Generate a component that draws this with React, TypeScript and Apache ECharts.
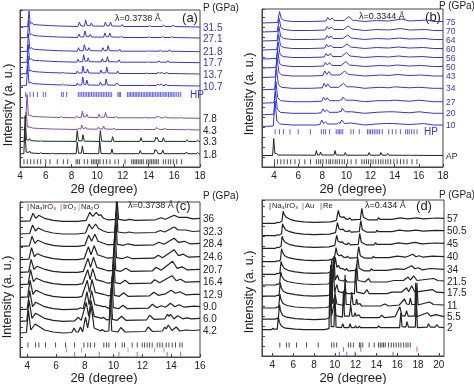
import React, { useEffect, useRef } from 'react';
import * as echarts from 'echarts';

const FONT = '"Liberation Sans", Arial, sans-serif';
const BLUE = '#3434dc';
const PURPLE = '#7d4fa6';
const BLACK = '#222222';
const RED = '#e2304e';
const GREEN = '#3cc44a';

// ---------- Panel (a) ----------
const aLabels = ['31.5', '27.1', '21.8', '17.7', '13.7', '10.7', '7.8', '4.3', '3.3', '1.8'];
const aOffsets = [140, 129, 115.3, 104.3, 93, 81, 48.7, 37, 25.3, 13];
const aColors = [BLUE, BLUE, BLUE, BLUE, BLUE, BLUE, PURPLE, PURPLE, BLACK, BLACK];
const a315 = [4,0, 4.6,0.5, 4.7,16, 4.8,3, 4.92,4.5, 5.05,2.5, 5.5,2, 6.2,1.5, 7,1, 8.5,0.5, 8.62,5, 8.74,1, 9.02,1, 9.1,7, 9.22,1.5, 9.47,1.2, 9.55,4, 9.66,1, 10.55,0.8, 10.64,5, 10.75,1.2, 10.95,1.2, 11.04,5, 11.15,1, 11.85,0.8, 11.95,2.5, 12.05,0.5, 14,0.5, 14.08,1.5, 14.2,0.5, 15.08,0.5, 15.16,2, 15.28,0.5, 15.8,0.5, 15.9,2, 16.05,0.5, 18,0];
const a271 = [4,0, 4.58,0.5, 4.68,18, 4.78,3, 4.9,4, 5.05,2.5, 5.5,2, 6.2,1.5, 7,1, 8.48,0.5, 8.58,4, 8.7,1, 8.96,1, 9.05,7, 9.17,1.5, 9.38,1.2, 9.46,3.5, 9.58,1, 10.5,0.8, 10.6,5, 10.7,1.2, 10.9,1.2, 10.98,5, 11.1,1, 11.8,0.8, 11.9,2, 12,0.5, 13.95,0.5, 14.02,1.2, 14.15,0.5, 15.02,0.5, 15.1,1.5, 15.2,0.5, 15.72,0.5, 15.8,1.5, 15.9,0.5, 18,0];
const a218 = [4,0, 4.56,0.5, 4.66,18, 4.76,3, 4.88,4, 5.02,2.5, 5.5,2, 6.2,1.5, 7,1, 8.45,0.5, 8.55,4, 8.65,1, 8.92,1, 9,7, 9.12,1.5, 9.28,1.5, 9.36,4, 9.46,1, 10.37,0.8, 10.45,4, 10.55,1, 10.77,1.2, 10.85,6, 10.96,1, 11.67,0.8, 11.75,2.5, 11.85,0.5, 13.92,0.5, 14,1, 14.1,0.5, 14.82,0.5, 14.9,1.5, 15,0.5, 15.55,0.5, 15.62,2, 15.72,0.5, 18,0];
const a177 = [4,0, 4.54,0.5, 4.64,18, 4.74,3, 4.87,4, 5,2.5, 5.5,2, 6.2,1.5, 7,1, 8.42,0.5, 8.5,3.5, 8.6,1, 8.87,1, 8.95,8, 9.06,1.5, 9.23,1.5, 9.3,5, 9.4,1, 10.32,0.8, 10.4,4, 10.5,1, 10.72,1.2, 10.8,6, 10.9,1, 11.62,0.8, 11.7,3, 11.8,0.5, 13.85,0.5, 13.92,1, 14,0.5, 14.72,0.5, 14.8,2, 14.9,0.5, 15.42,0.5, 15.5,2, 15.6,0.5, 18,0];
const a137 = [4,0, 4.52,0.5, 4.62,18, 4.72,3, 4.86,3.5, 5,2.5, 5.5,2, 6.2,1.5, 7.27,1, 7.35,1.5, 7.45,1, 8.38,0.5, 8.45,3, 8.55,1, 8.82,1, 8.9,8, 9,1.5, 9.18,1.5, 9.25,5, 9.35,1, 10.22,0.8, 10.3,4, 10.4,1, 10.67,1.2, 10.75,7, 10.85,1, 11.52,0.8, 11.6,3, 11.7,0.5, 13.8,0.5, 13.86,1, 13.95,0.5, 14.68,0.5, 14.75,2, 14.85,0.7, 15.05,1.5, 15.15,0.5, 15.33,0.5, 15.4,2, 15.5,0.5, 18,0];
const a107 = [4,0, 4.5,0.5, 4.6,20, 4.7,3, 4.84,3.5, 4.98,2.5, 5.5,2, 6.2,1.5, 7.22,1, 7.3,2, 7.4,1, 7.55,1, 7.6,1.5, 7.7,0.8, 8.38,0.5, 8.45,3, 8.55,1, 8.8,1, 8.88,9, 8.98,1.5, 9.12,1.5, 9.2,6, 9.3,1, 10.17,0.8, 10.25,4, 10.35,1, 10.62,1.2, 10.7,7, 10.8,1, 11.42,0.8, 11.5,3, 11.56,2, 11.62,2.5, 11.72,0.5, 13.75,0.5, 13.8,1, 13.9,0.5, 14.62,0.5, 14.7,2, 14.85,1, 15,2, 15.1,0.5, 15.28,0.5, 15.35,2, 15.45,0.5, 18,0];
const a78 = [4,0, 4.45,0.5, 4.55,24, 4.65,3, 4.8,3, 4.95,2, 5.5,1.5, 6.5,1, 7.12,0.8, 7.2,2, 7.3,0.8, 8.32,0.5, 8.4,2.5, 8.5,0.8, 8.77,1, 8.85,7, 8.95,1.5, 9.12,1.5, 9.2,4, 9.3,1, 10.07,0.8, 10.15,4, 10.25,1, 10.57,1.2, 10.65,6, 10.75,1, 11.42,0.8, 11.5,2, 11.6,0.5, 13.65,0.5, 13.7,1, 13.8,0.5, 14.58,0.5, 14.65,2, 14.72,1.5, 14.8,2, 14.9,0.5, 15.22,0.5, 15.3,2, 15.4,0.5, 16.45,0.3, 16.5,0.8, 16.6,0.3, 18,0];
const a43 = [4,0, 4.4,0.5, 4.48,18, 4.58,3, 4.78,3, 4.95,2, 5.5,1.5, 6.5,1, 8.47,0.5, 8.55,2, 8.65,1, 8.73,1, 8.8,5, 8.9,1.5, 9.03,1.5, 9.1,3, 9.2,1, 10.02,0.8, 10.1,3, 10.2,1, 10.42,1, 10.5,4, 10.6,1, 11.22,0.8, 11.3,2, 11.4,0.5, 13.45,0.5, 13.5,1, 13.6,0.5, 14.52,0.5, 14.6,2.5, 14.68,1.5, 14.75,2, 14.85,0.5, 15.17,0.5, 15.25,2, 15.35,0.5, 16.95,0.3, 17,1, 17.1,0.3, 18,0];
const a33 = [4,0, 4.32,0.5, 4.4,26, 4.5,2, 4.68,1.5, 4.75,3, 4.85,1, 5.6,0.5, 5.65,1, 5.72,0.5, 8.37,0.3, 8.45,11, 8.55,0.8, 8.82,0.8, 8.9,7, 9,0.5, 10.17,0.3, 10.25,11, 10.35,0.5, 11.12,0.3, 11.2,5, 11.3,0.3, 13.32,0.3, 13.4,4, 13.5,0.3, 14.47,0.3, 14.55,4.5, 14.62,3, 14.68,4, 14.78,0.3, 15.07,0.3, 15.15,4, 15.25,0.3, 16.92,0.3, 17,2, 17.1,0.3, 17.72,0.3, 17.8,1.5, 17.9,0.3, 18,0];
const a18 = [4,0, 4.3,0.5, 4.38,26, 4.48,2, 4.68,1.5, 4.75,3, 4.85,1, 5.55,0.5, 5.6,1.5, 5.7,0.5, 6.45,0.3, 6.5,0.8, 6.6,0.3, 8.37,0.3, 8.45,12, 8.55,0.8, 8.77,0.8, 8.85,8, 8.95,0.5, 10.12,0.3, 10.2,13, 10.3,0.5, 11.07,0.3, 11.15,5, 11.25,0.3, 13.27,0.3, 13.35,3.5, 13.45,0.3, 14.42,0.3, 14.5,4.5, 14.57,3, 14.63,3.5, 14.73,0.3, 15.02,0.3, 15.1,4, 15.2,0.3, 16.87,0.3, 16.95,2, 17.05,0.3, 17.72,0.3, 17.8,1.5, 17.9,0.3, 18,0];
const aCurves = [a315, a271, a218, a177, a137, a107, a78, a43, a33, a18];
const aTicksHP = [4.44,4.78,5.04,5.35,5.81,6.0,7.24,7.37,7.63,8.54,8.67,8.8,8.93,9.06,9.19,9.32,9.44,9.57,9.7,9.83,9.96,10.09,10.22,10.35,10.48,10.61,10.74,10.87,11.0,11.13,11.62,11.72,11.82,12.35,12.48,12.6,12.72,12.84,12.96,13.08,13.2,13.32,13.45,13.58,13.7,13.82,13.94,14.06,14.18,14.3,14.42,14.55,14.68,14.8,14.92,15.05,15.18,15.3,15.42,15.55,15.68,15.8,15.92,16.05,16.2,16.35,16.5];
const aTicksAP = [4.31,4.57,4.83,5.09,5.35,5.61,6.0,6.33,6.9,7.37,7.71,8.36,8.49,8.62,9.0,9.26,9.57,9.7,9.83,9.96,10.09,10.22,10.48,10.74,11.0,11.39,11.65,12.17,12.69,12.82,12.95,13.07,13.2,13.33,13.46,13.59,13.85,13.98,14.11,14.24,14.37,14.5,14.63,14.76,15.15,15.33,15.54,15.72,15.93,16.19,16.57];

// ---------- Panel (b) ----------
const bLabels = ['75', '70', '64', '60', '56', '50', '43', '34', '27', '20', '10', 'AP'];
const bOffsets = [145.5, 136.5, 127.5, 118.5, 109.5, 100.5, 91, 78.7, 65.3, 53.7, 42, 11.5];
const bColors = [BLUE, BLUE, BLUE, BLUE, BLUE, BLUE, BLUE, BLUE, BLUE, BLUE, BLUE, BLACK];
const b75 = [3,-1.5, 4.3,-1, 4.45,10, 4.6,3, 4.85,1, 5.5,0, 7,0, 8.3,0.5, 8.45,4, 8.62,1.5, 8.8,3.5, 9,1, 9.8,1, 10.2,5, 10.5,1.5, 10.8,1, 11.5,0, 12.5,1, 13.5,0.5, 14.6,2.5, 15.2,0.5, 16.7,1.5, 17.2,0, 18,0];
const b70 = [3,-1.5, 4.27,-1, 4.42,12, 4.57,3, 4.82,1, 5.5,0, 7,0, 8.25,0.5, 8.4,4, 8.57,1.5, 8.75,3.5, 8.95,1, 9.75,1, 10.15,4.5, 10.45,1.5, 11.5,0, 12.5,1, 13.5,0.5, 14.5,2, 15.2,0.5, 16.6,1, 17.2,0, 18,0];
const b64 = [3,-1.5, 4.25,-1, 4.4,13, 4.55,3, 4.8,1, 5.5,0, 7,0, 8.25,0.5, 8.4,4, 8.55,1.5, 8.7,3.5, 8.9,1, 9.7,1, 10.1,4.5, 10.4,1.5, 11.5,0, 12.5,1, 13.5,0.5, 14.4,1.5, 15.2,0.5, 16.5,1, 17.2,0, 18,0];
const b60 = [3,-1.5, 4.23,-1, 4.38,14, 4.53,3, 4.78,1, 5.5,0, 7,0, 8.2,0.5, 8.35,4, 8.52,1.5, 8.68,3.5, 8.88,1, 9.65,1, 10.05,4.5, 10.35,1.5, 11.5,0, 12.5,1, 13.5,0.5, 14.3,1.5, 15.2,0.5, 16.4,1, 17.2,0, 18,0];
const b56 = [3,-1.5, 4.2,-1, 4.35,15, 4.5,3, 4.75,1, 5.5,0, 7,0, 8.15,0.5, 8.3,4, 8.47,1.5, 8.65,4, 8.85,1, 9.6,1, 10,5, 10.3,1.5, 11.5,0, 12.6,1, 13.5,0.5, 14.3,1.5, 15.2,0.5, 16.3,1, 17.2,0, 18,0];
const b50 = [3,-1.5, 4.15,-1, 4.3,16, 4.45,3, 4.7,1, 5.5,0, 7,0, 8.1,0.5, 8.25,4, 8.42,1.5, 8.6,4, 8.8,1, 9.55,1, 9.95,5, 10.25,1.5, 11.5,0, 12.8,1, 13.5,0.5, 14.2,1.5, 15.2,0.5, 16.2,1, 17.2,0, 18,0];
const b43 = [3,-1.5, 4.1,-1, 4.25,18, 4.4,3.5, 4.65,1, 5.5,0, 7,0, 8.05,0.5, 8.2,5, 8.37,1.5, 8.55,4.5, 8.75,1, 9.45,1, 9.85,5, 10.15,1.5, 10.7,1, 11.5,0, 12.9,1, 13.5,0.5, 14.2,1.5, 15.2,0.5, 16.2,1, 17.2,0, 18,0];
const b34 = [3,-1.5, 4.05,-1, 4.2,20, 4.35,4, 4.6,1, 5.5,0, 7,0, 8,0.5, 8.15,5, 8.3,1.5, 8.45,4.5, 8.65,1, 9.35,1, 9.75,5, 10.05,1.5, 10.6,1.5, 11.5,0, 12.7,1, 13.5,0.5, 14,1.5, 15.2,0.5, 16,1, 17.2,0, 18,0];
const b27 = [3,-1.5, 4,-1, 4.15,20, 4.3,4, 4.55,1, 5.5,0, 7,0, 7.95,0.5, 8.1,4.5, 8.25,1.5, 8.4,4, 8.6,1, 9.4,1, 9.5,2, 9.6,1.5, 9.7,4.5, 9.95,1.5, 10.55,1.5, 11.5,0, 12.6,1, 13.5,1, 14,1.5, 15.2,0.5, 16,1.5, 17.2,0, 18,0];
const b20 = [3,-1.5, 3.97,-1, 4.12,22, 4.27,4, 4.52,1, 5.5,0, 7.5,0, 7.9,0.5, 8.05,4.5, 8.2,1.5, 8.35,3.5, 8.55,1, 9.3,1, 9.45,2, 9.55,1.5, 9.65,5, 9.9,1.5, 10.45,1.5, 11.5,0, 12.5,1, 13.4,1.5, 13.9,1.5, 15.2,0.5, 16,1.5, 17.2,0, 18,0];
const b10 = [3,-1.5, 3.93,-1, 4.08,24, 4.23,4, 4.48,1, 5.5,0, 7.5,0, 7.8,0.5, 7.95,5, 8.1,1.5, 8.25,3, 8.45,1, 9.2,1, 9.35,2.5, 9.47,1.5, 9.6,5, 9.85,1.5, 10.35,2, 11.5,0, 12.45,1, 13.3,1.5, 13.8,1.5, 15.2,0.5, 15.9,1, 16.4,1.5, 17.2,0, 18,0];
const bAP = [3,0, 3.88,0, 3.97,17, 4.07,2, 4.2,2, 4.35,0.5, 7.42,0.3, 7.5,5, 7.6,0.5, 7.78,0.5, 7.85,3.5, 7.95,0.5, 8.97,0.5, 9.05,5, 9.15,0.5, 9.83,0.3, 9.9,3, 10,0.3, 11.8,0.3, 11.88,3, 11.98,0.3, 12.77,0.3, 12.85,3, 12.95,0.3, 13.32,0.3, 13.4,2, 13.5,0.3, 15.15,0.2, 15.2,0.5, 15.3,0.2, 18,0];
const bCurves = [b75, b70, b64, b60, b56, b50, b43, b34, b27, b20, b10, bAP];
const bTicksHP = [4.09,4.45,4.78,5.32,6.0,7.01,7.92,8.11,8.27,8.6,9.15,9.3,9.42,9.55,9.69,10.37,10.57,11.06,11.74,11.88,12.0,12.15,12.3,12.45,12.6,12.75,12.97,13.5,13.8,14.1,14.47,14.9,15.05,15.2,15.4,15.6,15.85];
const bTicksAP = [4.04,4.28,4.56,4.83,5.1,5.38,5.73,6.09,6.55,7.02,7.51,7.7,7.86,8.05,8.33,8.54,8.68,8.87,9.07,9.23,9.42,9.64,9.83,10.1,10.38,10.79,11.28,11.47,11.66,11.83,12.02,12.21,12.43,12.65,12.84,13.03,13.25,13.44,13.66,13.93,14.2,14.48,14.75,15.02,15.43,15.84];

// ---------- Panel (c) ----------
const cLabels = ['36', '32.3', '28.4', '24.6', '20.7', '16.4', '12.9', '9.0', '6.0', '4.2'];
const cOffsets = [138.7, 126, 113.7, 100.3, 87.7, 75.3, 62.7, 50.3, 38.7, 27];
const c36 = [3.5,-3, 4.2,-2.5, 4.4,5, 4.6,0, 4.8,3, 5.2,0, 5.8,-2, 6.5,-3, 7.5,-3, 8.1,-2, 8.35,6, 8.55,2, 8.8,6, 8.97,3, 9.12,3.5, 9.3,0, 9.6,-1.5, 10.15,-1, 10.25,17, 10.35,-1, 10.8,-2, 11.1,-1, 11.5,-2, 12.9,-1.5, 13.3,0.5, 13.6,-1, 14.2,3, 14.5,1, 15.1,1, 15.5,-0.5, 16,0];
const c323 = [3.5,-3, 4.17,-2.5, 4.37,6, 4.57,0, 4.77,3, 5.2,0, 5.8,-2, 6.5,-3, 7.5,-3, 8.05,-2, 8.3,7, 8.5,2, 8.75,7, 8.95,2.5, 9.3,0, 9.6,-1.5, 10.1,-1, 10.2,30, 10.3,-1, 10.8,-2, 11.05,-1, 11.5,-2, 12.9,-1.5, 13.25,0.5, 13.55,-1, 14.2,4, 14.5,1, 15,1, 15.5,-0.5, 16,0];
const c284 = [3.5,-3, 4.15,-2.5, 4.33,7, 4.53,0, 4.73,3, 5.2,0, 5.8,-2, 6.5,-3, 7.5,-3, 8,-2, 8.27,8, 8.47,2, 8.7,9, 8.92,2, 9.3,0, 9.6,-1.5, 10.05,-1, 10.15,30, 10.25,-1, 10.7,-2, 11,-0.5, 11.5,-2, 12.8,-1.5, 13.15,1, 13.5,-1, 14.2,5, 14.5,1, 14.9,2, 15.3,-0.5, 16,0];
const c246 = [3.5,-3, 4.12,-2.5, 4.3,9, 4.5,0, 4.7,3, 5.2,0, 5.8,-2, 6.5,-3, 7.5,-3, 7.95,-2, 8.25,10, 8.43,2, 8.65,11, 8.88,2, 9.3,0, 9.6,-1.5, 10,-1, 10.1,30, 10.2,-1, 10.6,-2, 10.95,0, 11.3,-2, 12.8,-1.5, 13.1,1.5, 13.4,-1, 14.2,7, 14.5,1, 14.85,2.5, 15.2,-0.5, 16,0];
const c207 = [3.5,-3, 4.1,-2.5, 4.27,10, 4.47,0, 4.67,3, 5.2,0, 5.8,-2, 6.5,-3, 7.5,-3, 7.9,-2, 8.22,11, 8.4,2, 8.6,12, 8.83,2, 9.3,0, 9.6,-1.5, 9.95,-1, 10.05,30, 10.15,-1, 10.5,-2, 10.85,1, 11.2,-2, 12.7,-1.5, 12.95,2, 13.3,-1, 14.1,8, 14.4,1, 14.75,2.5, 15.1,-0.5, 16,0];
const c164 = [3.5,-3, 4.07,-2.5, 4.23,12, 4.43,0, 4.64,3.5, 5.2,0, 5.8,-2, 6.5,-3, 7.5,-3, 7.85,-2, 8.2,12, 8.37,2, 8.55,13, 8.78,2, 9.3,0, 9.6,-1.5, 9.9,-1, 10,30, 10.1,-1, 10.45,-2, 10.8,1.5, 11.1,-2, 12.6,-1.5, 12.85,2, 13.2,-1, 14.05,6, 14.35,1, 14.65,2.5, 15,-0.5, 16,0];
const c129 = [3.5,-3, 4.03,-2.5, 4.2,14, 4.4,0, 4.6,4, 5.2,0, 5.8,-2, 6.5,-3, 7.5,-3, 7.8,-2, 8.17,14, 8.33,2, 8.5,15, 8.73,2, 9.3,0, 9.6,-1.5, 9.85,-1, 9.95,30, 10.05,-1, 10.4,-2, 10.7,1.5, 11,-2, 12.5,-1.5, 12.8,2, 13.1,-1, 13.6,0.5, 14,4, 14.3,1, 14.6,2.5, 15,-0.5, 15.6,0, 16,0];
const c90 = [3.5,-3, 4,-2.5, 4.17,16, 4.37,0, 4.6,4.5, 5.2,0, 5.8,-2, 6.5,-3, 7.5,-2.5, 7.7,-1, 7.9,-2, 8.15,15, 8.3,2, 8.47,16, 8.7,2, 9.3,0, 9.4,0.5, 9.6,-1.5, 9.78,-1, 9.88,30, 9.98,-1, 10.35,-2, 10.65,1.5, 10.95,-2, 12.4,-1.5, 12.7,2.5, 13,-1, 13.3,1, 13.6,-0.5, 13.95,3.5, 14.25,0, 14.55,2, 14.9,-0.5, 15.6,0.5, 16,0];
const c60 = [3.5,-3, 3.97,-2.5, 4.13,18, 4.33,0, 4.58,5, 5.2,0, 5.8,-2, 6.5,-3, 7.3,-2.5, 7.55,1, 7.75,-2, 8.1,16, 8.27,2, 8.43,18, 8.65,2, 9.2,0, 9.3,1, 9.5,-1.5, 9.72,-1, 9.82,30, 9.92,-1, 10.25,-2, 10.55,2, 10.85,-2, 12.3,-1.5, 12.5,3, 12.8,-1, 13.55,-0.5, 13.75,4, 13.85,2, 13.95,4, 14.2,-0.5, 14.45,2.5, 14.8,-0.5, 15.1,0.5, 15.4,-0.5, 16,0];
const c42 = [3.5,-3, 3.95,-2.5, 4.08,20, 4.25,0, 4.55,6, 5.2,0, 5.8,-2, 6.5,-3, 7.1,-2.5, 7.25,2, 7.4,-2, 7.55,-2, 7.7,3, 7.85,-2, 8.05,13, 8.2,2, 8.45,24, 8.65,2, 9.1,-1, 9.2,0.5, 9.4,-1.5, 9.67,-1, 9.77,32, 9.87,-1, 10.3,-2, 10.5,2.5, 10.8,-2, 12.2,-1.5, 12.4,3, 12.7,-1.5, 13.4,-1, 13.55,3, 13.65,1, 13.8,5, 14.05,-0.5, 14.35,3, 14.6,-1, 15,0, 15.5,-0.5, 16,0];
const cCurves = [c36, c323, c284, c246, c207, c164, c129, c90, c60, c42];
const cTicksNa3IrO3 = [4.05,4.58,4.81,5.27,5.97,6.66,7.29,7.94,8.21,8.4,8.68,9.32,9.51,9.67,10.13,10.6,10.76,11.29,11.64,11.99,12.15,12.33,12.5,12.68,13.03,13.21,13.38,13.65,13.84,14.07,14.3,14.6,14.76];
const cTicksNa2O = [6.73, 7.77, 11.0, 12.85, 13.5];
const cTicksIrO2 = [7.29, 9.0, 10.37, 11.64, 13.72, 14.65];

// ---------- Panel (d) ----------
const dLabels = ['57', '50.5', '45', '40', '34', '21.5', '17.5', '11', '5.5', '2'];
const dOffsets = [137.7, 125.3, 112.7, 99.3, 86.7, 75, 63.3, 51, 39.3, 28.3];
const d57 = [3,-5, 4.3,-5, 4.45,-4, 4.6,-4.5, 4.92,-3, 5.03,7, 5.13,4, 5.33,1, 5.7,-1, 6.2,-2.5, 7,-3.5, 8,-4, 9.6,-3.5, 10.15,-2, 10.34,8, 10.48,2, 10.65,1, 10.85,1.5, 11.05,-0.5, 11.3,-1, 11.42,0.5, 11.6,-1.5, 12.45,-1, 12.6,10, 12.75,1, 13.2,-1.5, 14.1,-1.5, 14.2,0.5, 14.35,-1, 15.5,-1, 16.3,0.5, 17,-0.5, 17.9,0.5, 18.5,-0.5, 19.85,0.3, 20.5,0];
const d505 = [3,-5, 4.3,-5, 4.45,-4, 4.6,-4.5, 4.88,-3, 4.98,7, 5.08,4, 5.28,1, 5.65,-1, 6.2,-2.5, 7,-3.5, 8,-4, 9.5,-3.5, 10.07,-2, 10.25,8, 10.4,2, 10.58,1, 10.78,1.5, 10.98,-0.5, 11.25,-1, 11.37,0.5, 11.55,-1.5, 12.35,-1, 12.5,10, 12.65,1, 13.1,-1.5, 13.95,-1.5, 14.05,0.5, 14.2,-1, 15.5,-1, 16.2,0.5, 17,-0.5, 17.8,0.5, 18.5,-0.5, 19.7,0.3, 20.5,0];
const d45 = [3,-5, 4.3,-5, 4.45,-4, 4.6,-4.5, 4.83,-3, 4.93,7, 5.03,4, 5.23,1, 5.6,-1, 6.2,-2.5, 7,-3.5, 8,-4, 9.45,-3.5, 10,-2, 10.18,8, 10.32,2, 10.5,1, 10.7,1.5, 10.9,-0.5, 11.2,-1, 11.32,0.5, 11.5,-1.5, 12.25,-1, 12.4,10, 12.55,1, 13,-1.5, 13.8,-1.5, 13.9,0.5, 14.05,-1, 15.4,-1, 16.1,0.5, 16.9,-0.5, 17.7,1, 18.4,-0.5, 19.6,0.3, 20.5,0];
const d40 = [3,-5, 4.3,-5, 4.45,-4, 4.6,-4.5, 4.78,-3, 4.88,8, 4.98,4.5, 5.18,1, 5.55,-1, 6.2,-2.5, 7,-3.5, 8,-4, 9.4,-3.5, 9.95,-2, 10.12,9, 10.25,2.5, 10.45,1, 10.65,1.5, 10.85,-0.5, 11.1,-1, 11.22,0.5, 11.4,-1.5, 12.15,-1, 12.3,10, 12.45,1, 12.9,-1.5, 13.6,-1.5, 13.7,0.5, 13.85,-1, 15.2,-1, 16,0.5, 16.8,-0.5, 17.5,2.5, 17.8,0, 18.1,1, 18.5,-0.5, 19.4,0.5, 20.5,0];
const d34 = [3,-5, 4.3,-5, 4.45,-4, 4.6,-4.5, 4.73,-3, 4.83,8, 4.93,4.5, 5.13,1, 5.5,-1, 6.2,-2.5, 7,-3.5, 8,-4, 9.35,-3.5, 9.9,-1, 10.05,12, 10.2,2, 10.35,4, 10.5,1, 10.8,0.5, 11,-1, 11.12,0.8, 11.3,-1.5, 12.05,-1, 12.2,12, 12.35,1, 12.8,-1.5, 13.4,-1.5, 13.5,0.5, 13.65,-1, 15,-1, 15.9,0.5, 16.7,0, 17.4,3.5, 17.7,0.5, 18,1.5, 18.4,-0.5, 19.2,0.8, 20.5,0];
const d215 = [3,-4, 4.3,-4, 4.45,-3, 4.6,-3.5, 4.7,-2, 4.8,9, 4.9,5, 5.1,1.5, 5.45,-0.5, 6.2,-2, 7,-3, 8,-3.5, 9.3,-3, 9.8,-1, 9.92,25, 10.04,1, 10.25,6, 10.4,1, 10.8,0, 11,1.5, 11.2,-1, 11.98,-1, 12.1,17, 12.22,0.5, 12.9,-1, 13.25,2.5, 13.45,-1, 15,-1, 15.7,0.5, 16.6,0.5, 17.05,4, 17.25,1, 17.6,5, 17.9,0.5, 19.5,2.5, 19.9,0.5, 20.5,0];
const d175 = [3,-3.5, 4.3,-3.5, 4.45,-2.5, 4.6,-3, 4.65,-1.5, 4.75,10, 4.85,5, 5.05,1.5, 5.4,-0.5, 6.2,-2, 7,-3, 8,-3.5, 9.25,-3, 9.75,-1, 9.86,35, 9.97,1, 10.2,8, 10.35,1, 10.75,0, 10.95,2, 11.15,-1, 11.89,-1, 12,24, 12.11,0.5, 12.8,-1, 13.1,3, 13.3,-1, 15,-1, 15.5,0.5, 16.4,0.5, 16.9,5, 17.1,1, 17.4,7, 17.7,0.5, 19.4,3, 19.8,0.5, 20.5,0];
const d11 = [3,-3, 4.3,-3, 4.45,-2, 4.58,-2.5, 4.62,-1, 4.72,11, 4.82,5.5, 5.02,1.5, 5.4,-0.5, 6.2,-2, 7,-2.5, 8,-3, 9.2,-2.5, 9.6,-1, 9.7,45, 9.8,1, 10.05,10, 10.2,1, 10.89,-0.5, 10.99,30, 11.09,0.5, 11.5,0.5, 11.63,13, 11.76,0.5, 12,0.5, 12.1,6, 12.2,0.5, 12.4,1.5, 12.6,-1, 14.4,-1, 14.8,1, 15.2,-1, 16.2,0, 16.7,6, 16.9,1, 17.15,0.5, 17.26,7, 17.4,0.5, 17.8,0.5, 17.9,22, 18,0, 19.1,3, 19.5,0.5, 20.5,0];
const d55 = [3,-2.5, 4.3,-2.5, 4.45,-1.5, 4.55,-2, 4.58,-0.5, 4.68,12, 4.78,6, 4.98,1.5, 5.35,-0.5, 6.2,-2, 7,-2.5, 8,-3, 9.1,-2.5, 9.5,-1, 9.6,52, 9.7,1, 9.95,14, 10.1,1, 10.73,-0.5, 10.83,26, 10.93,0.5, 11.4,0.5, 11.53,12, 11.66,0.5, 11.85,0.5, 11.95,4, 12.05,0.5, 12.3,2, 12.5,-1, 14.3,-1, 14.5,1.5, 14.8,-1, 15.8,0, 16.25,10, 16.45,1, 16.75,0.5, 16.9,6, 17.05,0.5, 17.68,0.5, 17.78,34, 17.88,0, 18.9,4, 19.2,0.5, 19.7,2, 20.5,0];
const d2 = [3,-2, 3.9,-2, 4.05,-0.5, 4.15,-1.5, 4.47,-1.5, 4.57,11, 4.67,5.5, 4.87,1.5, 5.25,-0.5, 6.2,-1.5, 7,-2, 8,-2, 9,-2, 9.44,-1, 9.54,55, 9.66,1, 9.92,1, 10.02,38, 10.12,0.5, 10.65,0, 10.76,4, 10.9,0, 11.35,0, 11.47,4, 11.6,0, 11.9,0, 12,2, 12.1,0, 12.25,0, 12.35,1.5, 12.5,0, 14.1,0, 14.2,2, 14.4,0, 16.23,0, 16.35,15, 16.47,1, 16.82,0.5, 16.94,6, 17.08,0.5, 17.74,0.5, 17.84,30, 17.94,0, 18.9,0.5, 19,4, 19.2,0.5, 19.65,0.5, 19.8,3, 20,0.5, 20.5,0];
const dCurves = [d57, d505, d45, d40, d34, d215, d175, d11, d55, d2];
const dTicksNa3IrO3 = [4.71,5.35,5.61,6.32,7.28,8.41,9.7,9.92,10.18,11.31,11.53,11.79,12.37,12.5,12.69,13.3,13.79,14.2,14.37,14.53,14.69,14.85,15.17,15.43,15.66,15.9,16.14,16.36,16.62,16.85,17.04,17.26];
const dTicksAu = [10.83, 12.5, 17.9];
const dTicksRe = [10.44, 11.15, 11.95, 15.6];

// ---------- Layout ----------
const panels = [
  { grid: { left: 20, top: 10, width: 180, height: 157 }, min: 4, max: 18, ticks: [4, 6, 8, 10, 12, 14, 16, 18] },
  { grid: { left: 262, top: 9, width: 181, height: 158 }, min: 3, max: 18, ticks: [4, 6, 8, 10, 12, 14, 16, 18] },
  { grid: { left: 20, top: 202, width: 180, height: 155 }, min: 3.5, max: 16, ticks: [4, 6, 8, 10, 12, 14, 16] },
  { grid: { left: 262, top: 200, width: 182, height: 156 }, min: 3, max: 20.5, ticks: [4, 6, 8, 10, 12, 14, 16, 18, 20] },
];

function pairs(flat: number[], off: number) {
  const out: number[][] = [];
  for (let i = 0; i < flat.length; i += 2) out.push([flat[i], flat[i + 1] + off]);
  return out;
}

function lineSeries(idx: number, curves: number[][], labels: string[], offsets: number[], colors: string[], width: number, fontSize: number) {
  return curves.map((c, i) => ({
    type: 'line',
    xAxisIndex: idx,
    yAxisIndex: idx,
    data: pairs(c, offsets[i]),
    showSymbol: false,
    symbol: 'none',
    silent: true,
    clip: true,
    color: colors[i],
    lineStyle: { width, color: colors[i] },
    endLabel: {
      show: true,
      formatter: () => labels[i],
      color: colors[i] === BLACK || colors[i] === PURPLE ? BLACK : BLUE,
      fontSize,
      lineHeight: fontSize,
      fontFamily: FONT,
      distance: 3,
    },
  }));
}

function tickSeries(idx: number, positions: number[], y: number, color: string) {
  return {
    type: 'scatter',
    xAxisIndex: idx,
    yAxisIndex: idx,
    data: positions.map((p) => [p, y]),
    symbol: 'rect',
    symbolSize: [1, 5],
    silent: true,
    itemStyle: { color },
  };
}

function txt(x: number, y: number, text: string, opts: any = {}) {
  return {
    type: 'text',
    x,
    y,
    rotation: opts.rotation || 0,
    silent: true,
    style: {
      text,
      fill: opts.fill || BLACK,
      fontSize: opts.size || 10,
      fontFamily: FONT,
      textAlign: opts.align || 'left',
      textVerticalAlign: 'middle',
    },
  };
}

export default function App() {
  const ref = useRef<HTMLDivElement>(null);
  useEffect(() => {
    if (!ref.current) return;
    const chart = echarts.init(ref.current, null, { renderer: 'svg' });
    const black = Array(10).fill(BLACK);
    const series: any[] = [
      ...lineSeries(0, aCurves, aLabels, aOffsets, aColors, 1, 10),
      tickSeries(0, aTicksHP, 72.5, BLUE),
      tickSeries(0, aTicksAP, 5.3, BLACK),
      ...lineSeries(1, bCurves, bLabels, bOffsets, bColors, 1, 8.5),
      tickSeries(1, bTicksHP, 35.3, BLUE),
      tickSeries(1, bTicksAP, 5.3, BLACK),
      ...lineSeries(2, cCurves, cLabels, cOffsets, black, 1.2, 10),
      tickSeries(2, cTicksNa3IrO3, 12, BLACK),
      tickSeries(2, cTicksNa2O, 7, GREEN),
      tickSeries(2, cTicksIrO2, 2.7, RED),
      ...lineSeries(3, dCurves, dLabels, dOffsets, black, 1.2, 10),
      tickSeries(3, dTicksNa3IrO3, 11, BLACK),
      tickSeries(3, dTicksAu, 6.7, RED),
      tickSeries(3, dTicksRe, 1.7, '#4a4ae0'),
    ];
    const graphic: any[] = [
      txt(8, 105, 'Intensity (a. u.)', { rotation: Math.PI / 2, align: 'center', size: 12.5 }),
      txt(249, 94, 'Intensity (a. u.)', { rotation: Math.PI / 2, align: 'center', size: 12.5 }),
      txt(7, 297, 'Intensity (a. u.)', { rotation: Math.PI / 2, align: 'center', size: 12.5 }),
      txt(249, 292, 'Intensity (a. u.)', { rotation: Math.PI / 2, align: 'center', size: 12.5 }),
      txt(104, 188, '2θ (degree)', { align: 'center', size: 13 }),
      txt(353, 188, '2θ (degree)', { align: 'center', size: 13 }),
      txt(104, 377, '2θ (degree)', { align: 'center', size: 13 }),
      txt(353, 377, '2θ (degree)', { align: 'center', size: 13 }),
      txt(203, 7, 'P (GPa)', { size: 10 }),
      txt(439, 5, 'P (GPa)', { size: 10 }),
      txt(203, 195, 'P (GPa)', { size: 10 }),
      txt(439, 194, 'P (GPa)', { size: 10 }),
      txt(115, 18, 'λ=0.3738 Å', { size: 9 }),
      txt(190, 17, '(a)', { align: 'center', size: 13 }),
      txt(359, 16, 'λ=0.3344 Å', { size: 9 }),
      txt(433, 16, '(b)', { align: 'center', size: 13 }),
      txt(128, 205, 'λ=0.3738 Å', { size: 9 }),
      txt(183, 205, '(c)', { align: 'center', size: 13 }),
      txt(365, 205, 'λ=0.434 Å', { size: 9 }),
      txt(424, 205, '(d)', { align: 'center', size: 13 }),
      txt(190, 94.5, 'HP', { fill: BLUE, size: 10 }),
      txt(424, 131.7, 'HP', { fill: BLUE, size: 10 }),
      txt(27, 206, '|', { size: 8 }),
      txt(30, 206, 'Na₃IrO₃', { size: 7.5 }),
      txt(60, 206, '|', { size: 8, fill: RED }),
      txt(63, 206, 'IrO₂', { size: 7.5 }),
      txt(78, 206, '|', { size: 8, fill: GREEN }),
      txt(81, 206, 'Na₂O', { size: 7.5 }),
      txt(269, 205, '|', { size: 8 }),
      txt(272, 205, 'Na₃IrO₃', { size: 7.5 }),
      txt(302, 205, '|', { size: 8, fill: RED }),
      txt(305, 205, 'Au', { size: 7.5 }),
      txt(320, 205, '|', { size: 8, fill: '#4a4ae0' }),
      txt(323, 205, 'Re', { size: 7.5 }),
    ];
    chart.setOption({
      animation: false,
      textStyle: { fontFamily: FONT },
      grid: panels.map((p) => ({ ...p.grid, show: true, borderColor: '#444', borderWidth: 1, backgroundColor: 'transparent' })),
      xAxis: panels.map((p, i) => ({
        gridIndex: i,
        type: 'value',
        min: p.min,
        max: p.max,
        axisLine: { show: true, lineStyle: { color: '#444', width: 1 } },
        axisTick: { show: true, inside: true, length: 3, customValues: p.ticks, lineStyle: { color: '#444' } },
        axisLabel: { show: true, customValues: p.ticks, fontSize: 10, color: BLACK, margin: 3, fontFamily: FONT },
        splitLine: { show: false },
      })),
      yAxis: panels.map((p, i) => ({
        gridIndex: i,
        type: 'value',
        min: 0,
        max: p.grid.height,
        interval: 10,
        axisLine: { show: true, lineStyle: { color: '#444', width: 1 } },
        axisTick: { show: true, inside: true, length: 3, lineStyle: { color: '#444' } },
        axisLabel: { show: false },
        splitLine: { show: false },
      })),
      series,
      graphic,
    });
    return () => chart.dispose();
  }, []);
  return <div ref={ref} style={{ position: 'fixed', left: 0, top: 0, width: 474, height: 384 }} />;
}
